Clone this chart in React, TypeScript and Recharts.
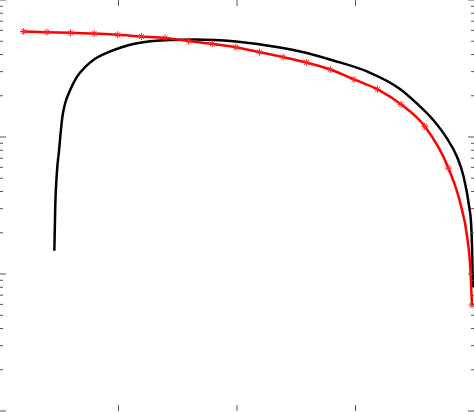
import React from 'react';
import { LineChart, Line, XAxis, YAxis } from 'recharts';

// black curve
const blackX = [0.4586, 0.4662, 0.4797, 0.4983, 0.5084, 0.5262, 0.549, 0.5912, 0.6478, 0.7179, 0.8024, 0.9147, 1.0279, 1.1343, 1.2669, 1.4358, 1.647, 1.8159, 1.9679, 2.2525, 2.5338, 2.8125, 3.0971, 3.3784, 3.5194, 3.6596, 3.7728, 3.8573, 3.913, 3.9552, 3.9755, 3.984, 3.989, 3.9916];
const blackY = [1.48, 3.08, 5.44, 8.0, 10.0, 14.0, 17.5, 21.9, 27.35, 32.3, 37.2, 41.6, 45.2, 47.9, 50.0, 51.0, 51.5, 51.0, 50.0, 46.6, 42.1, 36.2, 30.1, 22.3, 17.5, 13.2, 9.73, 7.15, 5.11, 3.27, 2.34, 1.5, 0.956, 0.804];

// red curve, marker points
const redX = [0.197, 0.396, 0.596, 0.795, 0.994, 1.193, 1.393, 1.592, 1.791, 1.99, 2.19, 2.389, 2.588, 2.787, 2.987, 3.186, 3.385, 3.584, 3.784, 3.983];
const redY = [58.9, 58.2, 57.6, 56.9, 55.7, 54.1, 52.8, 50.2, 47.9, 45.2, 41.6, 38.3, 35.0, 31.1, 26.3, 22.3, 17.3, 11.97, 5.92, 0.594];
// extra points on the red line between the last two markers
const redTailX = [3.885, 3.942, 3.97];
const redTailY = [3.27, 1.87, 1.07];

const xTicks = [1, 2, 3];
const yMajor = [0.1, 1, 10, 100];
const yTicks = [0.1, 1, 10].flatMap((d) => [1, 2, 3, 4, 5, 6, 7, 8, 9].map((m) => +(d * m).toPrecision(3))).concat(100);

const blackData = blackX.map((x, i) => ({ x, y: blackY[i] }));
const redMarkers = redX.map((x, i) => ({ x, y: redY[i] }));
const redLine = [...redMarkers, ...redTailX.map((x, i) => ({ x, y: redTailY[i] }))].sort((a, b) => a.x - b.x);

const Asterisk = (props: any) => {
  const { cx, cy } = props;
  if (cx == null || cy == null) return null;
  const r = 3.5;
  const d = r * 0.7;
  return (
    <g stroke="#ff2020" strokeWidth={1}>
      <line x1={cx - r} y1={cy} x2={cx + r} y2={cy} />
      <line x1={cx} y1={cy - r} x2={cx} y2={cy + r} />
      <line x1={cx - d} y1={cy - d} x2={cx + d} y2={cy + d} />
      <line x1={cx - d} y1={cy + d} x2={cx + d} y2={cy - d} />
    </g>
  );
};

// inward tick marks, longer at each decade
const YTick = (props: any) => {
  const { x, y, payload, orientation } = props;
  const len = yMajor.includes(payload.value) ? 6 : 3;
  const dir = orientation === 'right' ? -1 : 1;
  return <line x1={x} y1={y} x2={x + dir * len} y2={y} stroke="#555" strokeWidth={1} />;
};

const XTick = (props: any) => {
  const { x, y, orientation } = props;
  const dir = orientation === 'top' ? 1 : -1;
  return <line x1={x} y1={y} x2={x} y2={y + dir * 6} stroke="#555" strokeWidth={1} />;
};

export default function App() {
  const yCommon = {
    type: 'number' as const,
    scale: 'log' as const,
    domain: [0.1, 100],
    allowDataOverflow: true,
    mirror: true,
    axisLine: false,
    tickLine: false,
    tickSize: 0,
    tickMargin: 0,
    ticks: yTicks,
    interval: 0 as const,
  };
  const xCommon = {
    type: 'number' as const,
    dataKey: 'x',
    domain: [0, 4],
    allowDataOverflow: true,
    mirror: true,
    axisLine: false,
    tickLine: false,
    tickSize: 0,
    tickMargin: 0,
    ticks: xTicks,
    interval: 0 as const,
  };
  return (
    <div style={{ position: 'absolute', left: 0, top: 0, background: '#fff' }}>
      <LineChart width={474} height={412} margin={{ top: 0, right: 0, bottom: 1, left: 0 }}>
        <XAxis xAxisId="b" orientation="bottom" tick={<XTick orientation="bottom" />} {...xCommon} />
        <XAxis xAxisId="t" orientation="top" tick={<XTick orientation="top" />} {...xCommon} />
        <YAxis yAxisId="l" orientation="left" tick={<YTick orientation="left" />} {...yCommon} />
        <YAxis yAxisId="r" orientation="right" tick={<YTick orientation="right" />} {...yCommon} />
        <Line
          xAxisId="b"
          yAxisId="l"
          data={blackData}
          dataKey="y"
          type="monotone"
          stroke="#000"
          strokeWidth={2.5}
          dot={false}
          isAnimationActive={false}
        />
        <Line
          xAxisId="b"
          yAxisId="l"
          data={redLine}
          dataKey="y"
          type="monotone"
          stroke="#ff0000"
          strokeWidth={2.5}
          dot={false}
          isAnimationActive={false}
        />
        <Line
          xAxisId="b"
          yAxisId="l"
          data={redMarkers}
          dataKey="y"
          stroke="none"
          dot={<Asterisk />}
          isAnimationActive={false}
        />
      </LineChart>
    </div>
  );
}
